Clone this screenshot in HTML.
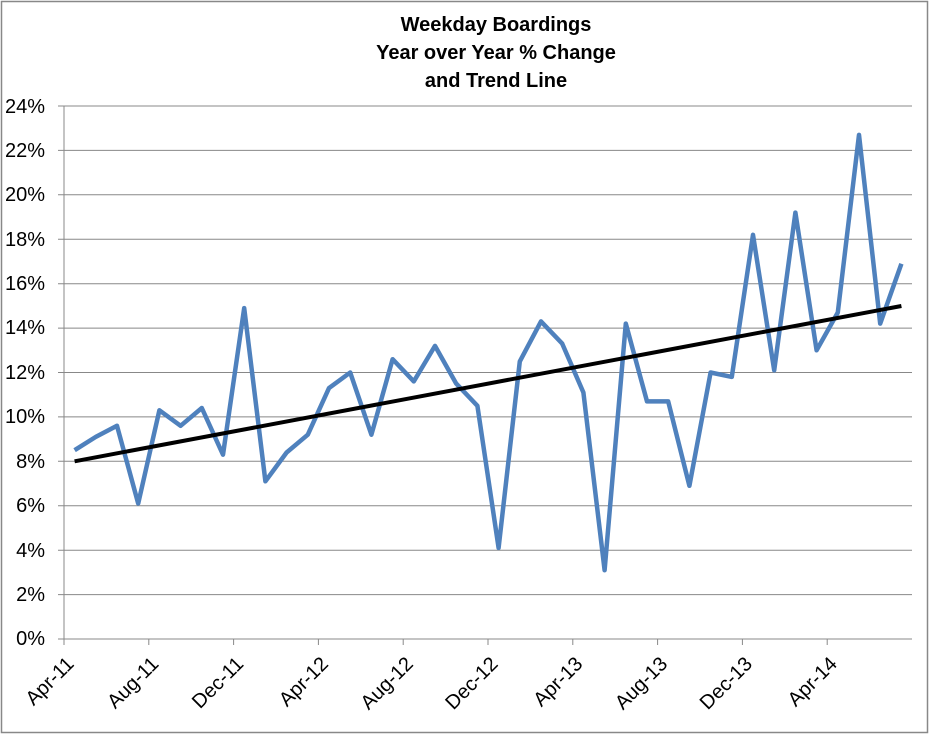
<!DOCTYPE html>
<html><head><style>body{margin:0;background:#fff}svg{display:block}text{font-family:"Liberation Sans",sans-serif;fill:#000}</style></head>
<body>
<svg width="929" height="734" viewBox="0 0 929 734">
<rect x="1.5" y="1.5" width="926" height="731" fill="#fff" stroke="#888" stroke-width="1.5"/>
<text x="496" y="31" font-size="20" font-weight="bold" text-anchor="middle">Weekday Boardings</text>
<text x="496" y="59" font-size="20" font-weight="bold" text-anchor="middle">Year over Year % Change</text>
<text x="496" y="87" font-size="20" font-weight="bold" text-anchor="middle">and Trend Line</text>
<g stroke="#888" stroke-width="1">
<line x1="58" y1="106" x2="912" y2="106"/><line x1="58" y1="150.4" x2="912" y2="150.4"/><line x1="58" y1="194.8" x2="912" y2="194.8"/><line x1="58" y1="239.3" x2="912" y2="239.3"/><line x1="58" y1="283.7" x2="912" y2="283.7"/><line x1="58" y1="328.1" x2="912" y2="328.1"/><line x1="58" y1="372.5" x2="912" y2="372.5"/><line x1="58" y1="416.9" x2="912" y2="416.9"/><line x1="58" y1="461.3" x2="912" y2="461.3"/><line x1="58" y1="505.8" x2="912" y2="505.8"/><line x1="58" y1="550.2" x2="912" y2="550.2"/><line x1="58" y1="594.6" x2="912" y2="594.6"/><line x1="58" y1="639" x2="912" y2="639"/>
<line x1="64" y1="106" x2="64" y2="645"/>
<line x1="148.8" y1="639" x2="148.8" y2="645"/><line x1="233.6" y1="639" x2="233.6" y2="645"/><line x1="318.4" y1="639" x2="318.4" y2="645"/><line x1="403.2" y1="639" x2="403.2" y2="645"/><line x1="488" y1="639" x2="488" y2="645"/><line x1="572.8" y1="639" x2="572.8" y2="645"/><line x1="657.6" y1="639" x2="657.6" y2="645"/><line x1="742.4" y1="639" x2="742.4" y2="645"/><line x1="827.2" y1="639" x2="827.2" y2="645"/>
</g>
<g font-size="20" text-anchor="end">
<text x="45" y="113">24%</text><text x="45" y="157">22%</text><text x="45" y="201">20%</text><text x="45" y="246">18%</text><text x="45" y="290">16%</text><text x="45" y="334">14%</text><text x="45" y="379">12%</text><text x="45" y="423">10%</text><text x="45" y="468">8%</text><text x="45" y="512">6%</text><text x="45" y="557">4%</text><text x="45" y="601">2%</text><text x="45" y="645">0%</text>
</g>
<g font-size="20" text-anchor="end">
<text transform="translate(75,665) rotate(-45)">Apr-11</text>
<text transform="translate(159.8,665) rotate(-45)">Aug-11</text>
<text transform="translate(244.6,665) rotate(-45)">Dec-11</text>
<text transform="translate(329.4,665) rotate(-45)">Apr-12</text>
<text transform="translate(414.2,665) rotate(-45)">Aug-12</text>
<text transform="translate(499,665) rotate(-45)">Dec-12</text>
<text transform="translate(583.8,665) rotate(-45)">Apr-13</text>
<text transform="translate(668.6,665) rotate(-45)">Aug-13</text>
<text transform="translate(753.4,665) rotate(-45)">Dec-13</text>
<text transform="translate(838.2,665) rotate(-45)">Apr-14</text>
</g>
<polyline fill="none" stroke="#4f81bd" stroke-width="4.5" stroke-linejoin="round" points="74.6,450.2 95.8,436.9 117,425.8 138.2,503.5 159.4,410.3 180.6,425.8 201.8,408 223,454.7 244.2,308.1 265.4,481.3 286.6,452.5 307.8,434.7 329,388.1 350.2,372.5 371.4,434.7 392.6,359.2 413.8,381.4 435,345.9 456.2,383.6 477.4,405.8 498.6,547.9 519.8,361.4 541,321.4 562.2,343.6 583.4,392.5 604.6,570.2 625.8,323.6 647,401.4 668.2,401.4 689.4,485.8 710.6,372.5 731.8,376.9 753,234.8 774.2,370.3 795.4,212.6 816.6,350.3 837.8,312.5 859,134.9 880.2,323.6 901.4,263.7"/>
<line x1="74.6" y1="461.3" x2="901.4" y2="306" stroke="#000" stroke-width="4"/>
</svg>
</body></html>
